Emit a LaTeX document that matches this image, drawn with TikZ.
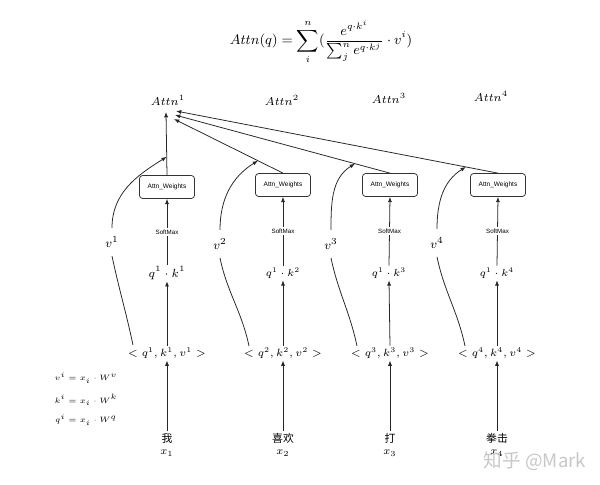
\RequirePackage{fix-cm}
\documentclass[tikz,border=0pt]{standalone}
\usepackage{fontspec}
\newfontfamily\cjk{Noto Sans CJK SC}
\newfontfamily\hel{Liberation Sans}
\usetikzlibrary{arrows.meta,calc}
\begin{document}
\begin{tikzpicture}[x=0.645pt,y=0.645pt,
  ln/.style={draw=black!85, line width=0.5pt},
  arr/.style={ln,-{Latex[length=3.4pt,width=2.6pt]}},
  mlab/.style={font=\fontsize{7.4}{9}\selectfont, inner sep=1pt},
  trlab/.style={font=\fontsize{6.8}{8}\selectfont, inner sep=1pt},
  qklab/.style={font=\fontsize{6.6}{8}\selectfont, inner sep=1pt},
  wbox/.style={draw=black!80, line width=0.5pt, rounded corners=2pt, minimum width=35.5pt, minimum height=14.8pt, font=\hel\fontsize{4.2}{5}\selectfont, inner sep=0pt},
  smx/.style={fill=white, font=\hel\fontsize{4}{5}\selectfont, inner sep=1pt},
  vlab/.style={font=\fontsize{8}{9}\selectfont, inner xsep=1pt, inner ysep=5.5pt},
  word/.style={font=\cjk\fontsize{7}{8}\selectfont, inner sep=1pt},
  xlab/.style={font=\fontsize{7}{8}\selectfont, inner sep=1pt},
  eqn/.style={font=\fontsize{5}{6}\selectfont, inner sep=1pt}
]
\useasboundingbox (0,0) rectangle (600,-484);

% formula
\node[font=\fontsize{9}{11}\selectfont] (f) at (321,-42)
  {$\displaystyle Attn(q)=\sum_i^n(\frac{e^{q\cdot k^i}}{\sum_j^n e^{q\cdot k^j}}\cdot v^i)$};

% attention outputs
\node[mlab] (at1) at (168,-100) {$Attn^1$};
\node[mlab] (at2) at (282,-100) {$Attn^2$};
\node[mlab] (at3) at (389,-98) {$Attn^3$};
\node[mlab] (at4) at (491,-96) {$Attn^4$};

\coordinate (t1) at (166,-112);
\coordinate (t2) at (174,-119);
\coordinate (t3) at (175,-115);
\coordinate (t4) at (176,-111);

% weight boxes
\node[wbox] (b1) at (167,-187) {Attn\_Weights};
\node[wbox] (b2) at (283,-185) {Attn\_Weights};
\node[wbox] (b3) at (390,-185) {Attn\_Weights};
\node[wbox] (b4) at (498,-185) {Attn\_Weights};

% q.k
\node[qklab, font=\fontsize{7.6}{9}\selectfont] (qk1) at (167,-273) {$q^1\cdot k^1$};
\node[qklab] (qk2) at (283,-273) {$q^1\cdot k^2$};
\node[qklab] (qk3) at (389,-273) {$q^1\cdot k^3$};
\node[qklab] (qk4) at (497,-273) {$q^1\cdot k^4$};

% triples
\node[trlab] (tr1) at (167,-353) {$<q^1,k^1,v^1>$};
\node[trlab] (tr2) at (283,-353) {$<q^2,k^2,v^2>$};
\node[trlab] (tr3) at (390,-353) {$<q^3,k^3,v^3>$};
\node[trlab] (tr4) at (497,-353) {$<q^4,k^4,v^4>$};

% words
\node[word] (w1) at (167,-438) {我};
\node[word] (w2) at (283,-438) {喜欢};
\node[word] (w3) at (390,-438) {打};
\node[word] (w4) at (497,-438) {拳击};
\node[xlab] (x1) at (167,-453) {$x_1$};
\node[xlab] (x2) at (283,-453) {$x_2$};
\node[xlab] (x3) at (390,-453) {$x_3$};
\node[xlab] (x4) at (497,-453) {$x_4$};

% left equations
\node[eqn] (e_v) at (86,-378) {$v^i = x_i\cdot W^v$};
\node[eqn] (e_k) at (86,-400) {$k^i = x_i\cdot W^k$};
\node[eqn] (e_q) at (86,-420) {$q^i = x_i\cdot W^q$};

% watermark
\node[font=\cjk\fontsize{12}{14}\selectfont, text=black!22] (wm) at (535,-461) {知乎 @Mark};

% vertical arrows
\foreach \i in {1,2,3,4}{
  \draw[arr] (w\i.north) -- (tr\i.south);
  \draw[arr] (tr\i.north) -- (qk\i.south);
  \draw[arr] (qk\i.north) -- node[smx] {SoftMax} (b\i.south);
  \draw[arr] (b\i.north) -- (t\i);
}

% value curves
\coordinate (s1) at (133,-345);
\coordinate (s2) at (249,-346);
\coordinate (s3) at (357,-346);
\coordinate (s4) at (465,-346);
\node[vlab] (v1) at (112,-242) {$v^1$};
\node[vlab] (v2) at (220,-244) {$v^2$};
\node[vlab] (v3) at (331,-244) {$v^3$};
\node[vlab] (v4) at (437,-243) {$v^4$};
\coordinate (e1) at ($(b1.north)!0.29!(t1)$);
\coordinate (e2) at ($(b2.north)!0.23!(t2)$);
\coordinate (e3) at ($(b3.north)!0.163!(t3)$);
\coordinate (e4) at ($(b4.north)!0.10!(t4)$);
\foreach \i in {1,2,3,4}{
  \draw[ln] (s\i) to[out=102,in=-78] (v\i.south);
  \draw[arr] (v\i.north) to[out=90,in=212] (e\i);
}
\end{tikzpicture}
\end{document}
